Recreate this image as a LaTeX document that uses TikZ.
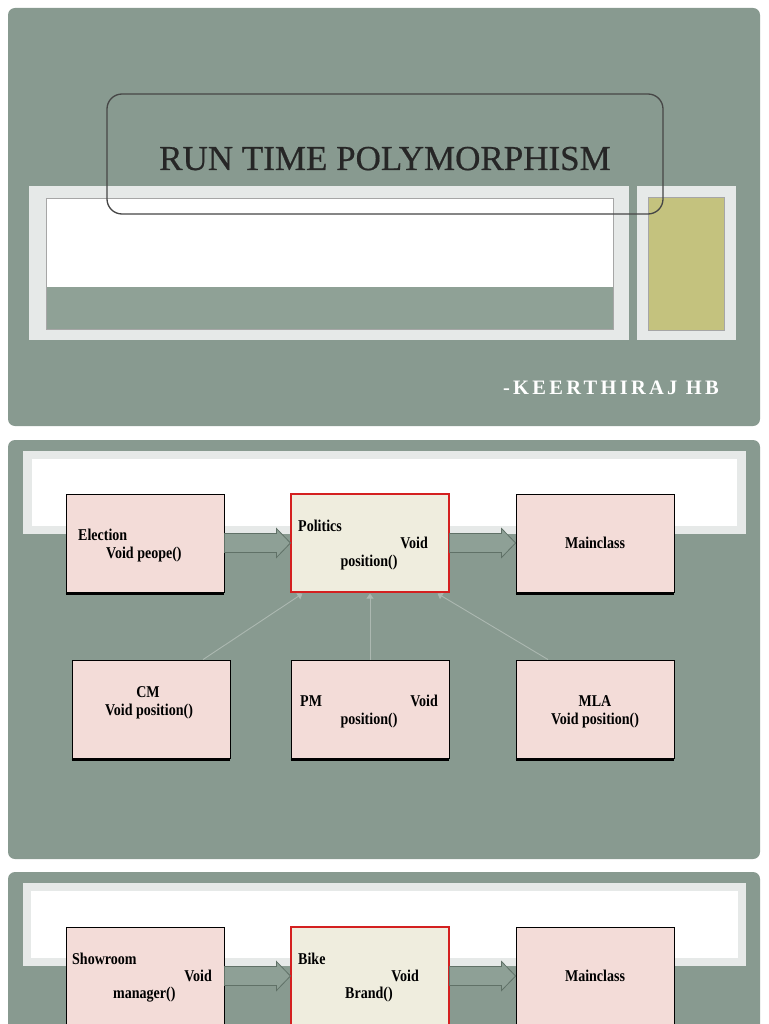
\documentclass[tikz,border=0pt]{standalone}
\usepackage{fontspec}
\setmainfont{Liberation Serif}
\newfontfamily\boxfont[FakeStretch=0.85]{Liberation Serif}
\newfontfamily\titlefont[FakeBold=0.6]{Liberation Serif}
\newfontfamily\authfont[LetterSpace=16]{Liberation Serif}
\usetikzlibrary{calc,arrows.meta}
\definecolor{slidebg}{RGB}{136,154,144}
\definecolor{bandlight}{RGB}{230,233,232}
\definecolor{innergray}{RGB}{143,161,150}
\definecolor{olive}{RGB}{196,194,126}
\definecolor{pinkbox}{RGB}{243,220,216}
\definecolor{creambox}{RGB}{239,237,222}
\definecolor{redline}{RGB}{212,32,32}
\definecolor{arrowfill}{RGB}{142,160,150}
\definecolor{arrowline}{RGB}{96,113,103}
\definecolor{linkline}{RGB}{172,184,177}
\definecolor{titleline}{RGB}{70,70,70}
\tikzset{
  slide/.style={fill=slidebg, rounded corners=7pt},
  classbox/.style={draw=black, line width=0.9pt, fill=pinkbox, minimum width=158pt, minimum height=98pt, inner sep=0pt},
  basebox/.style={classbox, draw=redline, fill=creambox, line width=1.1pt},
  txt/.style={font=\boxfont\bfseries\fontsize{16.5}{18}\selectfont, inner sep=0pt, anchor=base},
  txtl/.style={txt, anchor=base west},
  txtr/.style={txt, anchor=base east},
  barrow/.style={fill=arrowfill, draw=arrowline, line width=0.8pt},
  link/.style={draw=linkline, line width=0.9pt, -{Triangle[length=5pt,width=7pt]}},
}
\newcommand{\blockarrow}[2]{%
  \draw[barrow] ($(#1.east)+(0,-9.5)$) -- ($(#2.west)+(-14,-9.5)$) -- ($(#2.west)+(-14,-14.5)$) -- (#2.west) -- ($(#2.west)+(-14,14.5)$) -- ($(#2.west)+(-14,9.5)$) -- ($(#1.east)+(0,9.5)$) -- cycle;}
\newcommand{\boxshadow}[1]{%
  \draw[black, line width=1.6pt] ($(#1.south west)+(0,1.5)$) -- ($(#1.south east)+(0,1.5)$);}
\begin{document}
\begin{tikzpicture}[x=1pt, y=-1pt]
\useasboundingbox (0,0) rectangle (768,1024);
\clip (0,0) rectangle (768,1024);
\fill[white] (0,0) rectangle (768,1024);
% ---------- slide 1 ----------
\fill[slide] (8,8) rectangle (760,426);
\fill[bandlight] (29,186) rectangle (629,340);
\fill[white] (46,198) rectangle (613,287);
\fill[innergray] (46,287) rectangle (613,329);
\draw[gray!70, line width=0.5pt] (46,198) rectangle (613,329);
\fill[bandlight] (637,186) rectangle (736,340);
\fill[olive, draw=gray!70, line width=0.4pt] (648,197) rectangle (724,330);
\draw[titleline, line width=1.3pt, rounded corners=15pt] (107,94) rectangle (663,214);
\node[font=\titlefont\fontsize{35}{40}\selectfont, text=black!85, anchor=base, inner sep=0pt] (title) at (385,170) {RUN TIME POLYMORPHISM};
\node[font=\authfont\bfseries\fontsize{20.5}{24}\selectfont, text=white, anchor=base east, inner sep=0pt] (author) at (719,394) {-KEERTHIRAJ HB};
% ---------- slide 2 ----------
\fill[slide] (8,440) rectangle (760,859);
\fill[bandlight] (23,451) rectangle (746,534);
\fill[white] (32,459) rectangle (737,526);
\node[classbox] (elec) at (145,543) {};
\node[basebox] (pol) at (370,543) {};
\node[classbox] (main1) at (595,543) {};
\node[classbox] (cm) at (151,709) {};
\node[classbox] (pm) at (370,709) {};
\node[classbox] (mla) at (595,709) {};
\foreach \b in {elec,main1,cm,pm,mla}{\boxshadow{\b}}
\blockarrow{elec}{pol}
\blockarrow{pol}{main1}
\draw[link] ($(cm.north)+(52,0)$) -- ($(pol.south west)+(12,1)$);
\draw[link] (pm.north) -- ($(pol.south)+(0,1)$);
\draw[link] ($(mla.north)+(-47,0)$) -- ($(pol.south east)+(-12,1)$);
\node[txtl] at (78,540) {Election};
\node[txtl] at (106,558) {Void peope()};
\node[txtl] at (298,531) {Politics};
\node[txtr] at (428,548) {Void};
\node[txt] at (369,566) {position()};
\node[txt] at (595,548) {Mainclass};
\node[txt] at (148,697) {CM};
\node[txt] at (149,715) {Void position()};
\node[txtl] at (300,706) {PM};
\node[txtr] at (438,706) {Void};
\node[txt] at (369,724) {position()};
\node[txt] at (595,706) {MLA};
\node[txt] at (595,724) {Void position()};
% ---------- slide 3 ----------
\fill[slide] (8,872) rectangle (760,1060);
\fill[bandlight] (23,883) rectangle (746,966);
\fill[white] (31,891) rectangle (738,958);
\node[classbox] (show) at (145,976) {};
\node[basebox] (bike) at (370,976) {};
\node[classbox] (main2) at (595,976) {};
\blockarrow{show}{bike}
\blockarrow{bike}{main2}
\node[txtl] at (72,964) {Showroom};
\node[txtr] at (212,981) {Void};
\node[txtl] at (113,998) {manager()};
\node[txtl] at (298,964) {Bike};
\node[txtr] at (419,981) {Void};
\node[txtl] at (345,998) {Brand()};
\node[txt] at (595,981) {Mainclass};
\end{tikzpicture}
\end{document}
